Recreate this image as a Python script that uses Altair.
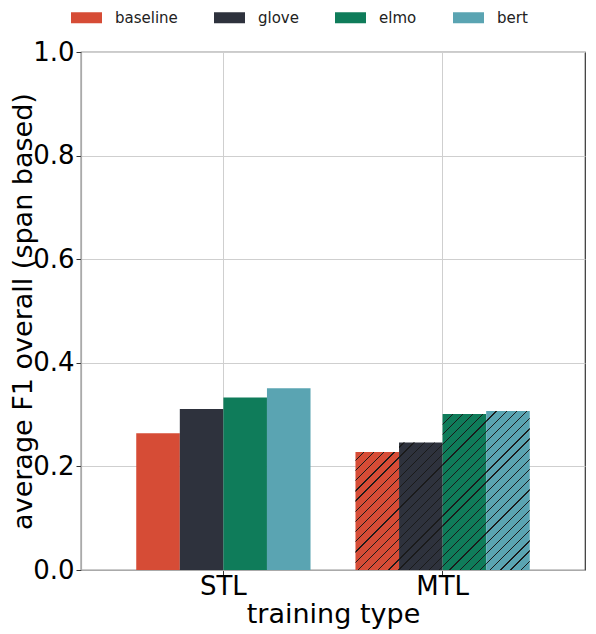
import math
import altair as alt
import pandas as pd

# ---- data ----
training = ["STL", "MTL"]
models = ["baseline", "glove", "elmo", "bert"]
stl_f1 = [0.264, 0.311, 0.333, 0.351]
mtl_f1 = [0.228, 0.246, 0.301, 0.307]
colors = ["#d64c36", "#2e323d", "#0f7c5a", "#5aa4b2"]
y_ticks = [0.0, 0.2, 0.4, 0.6, 0.8, 1.0]

rows = []
for t, vals in zip(training, [stl_f1, mtl_f1]):
    for m, v in zip(models, vals):
        rows.append({"training": t, "model": m, "f1": v})
df = pd.DataFrame(rows)

W, H = 504, 518
P_IN, P_OUT = 0.205, 0.252
FONT = "DejaVu Sans"

# band geometry (only used for the hatch pattern phase/shape)
step = W / (len(training) - P_IN + 2 * P_OUT)
bandw = step * (1 - P_IN)
barw = bandw / len(models)


def hatch_gradient(value, group_idx, model_idx, period=7.2, lw=0.9):
    w = barw
    h = value * H
    x0 = step * P_OUT + group_idx * step + model_idx * barw
    y0 = H - h
    k = (1 / h + 1 / w) / (1 / h ** 2 + 1 / w ** 2)
    a, b = k / h, k / w
    L = (w + h) / math.sqrt(2)
    s0 = (x0 + y0) / math.sqrt(2)
    clear, ink = "rgba(0,0,0,0)", "#1a1a1a"
    stops = [{"offset": 0, "color": clear}]
    pos = math.ceil(s0 / period) * period - s0
    while pos < L:
        o1 = pos / L
        o2 = min((pos + lw) / L, 1.0)
        stops += [
            {"offset": o1, "color": clear},
            {"offset": o1, "color": ink},
            {"offset": o2, "color": ink},
            {"offset": o2, "color": clear},
        ]
        pos += period
    stops.append({"offset": 1, "color": clear})
    return {"gradient": "linear", "x1": 0, "y1": 0, "x2": a, "y2": b, "stops": stops}


x_enc = alt.X(
    "training:N",
    scale=alt.Scale(domain=training, paddingInner=P_IN, paddingOuter=P_OUT),
    axis=alt.Axis(
        title="training type",
        labelAngle=0,
        grid=True,
        bandPosition=0.5,
        ticks=True,
        tickSize=5,
        tickColor="#333333",
        labelBaseline="alphabetic",
        labelPadding=19,
        titleBaseline="alphabetic",
        titleY=52,
        titleX=W / 2,
    ),
)
xo_enc = alt.XOffset(
    "model:N", scale=alt.Scale(domain=models, paddingInner=0, paddingOuter=0)
)
y_enc = alt.Y(
    "f1:Q",
    scale=alt.Scale(domain=[0, 1], nice=False),
    axis=alt.Axis(
        title="average F1 overall (span based)",
        values=y_ticks,
        format=".1f",
        grid=True,
        tickSize=5,
        tickColor="#333333",
        labelPadding=2,
        titleAngle=-90,
        titleBaseline="alphabetic",
        titleAlign="center",
        titleX=-50,
        titleY=H / 2,
    ),
)

base = (
    alt.Chart(df)
    .mark_bar(strokeWidth=0)
    .encode(
        x=x_enc,
        xOffset=xo_enc,
        y=y_enc,
        color=alt.Color(
            "model:N",
            scale=alt.Scale(domain=models, range=colors),
            legend=alt.Legend(
                title=None,
                orient="none",
                direction="horizontal",
                legendX=-10,
                legendY=-50,
                symbolType="M-1,-0.355H1V0.355H-1Z",
                symbolSize=961,
                symbolStrokeWidth=0,
                labelFontSize=15,
                labelFont=FONT,
                labelColor="#222222",
                labelOffset=13,
                columnPadding=36,
                padding=0,
            ),
        ),
    )
)

layers = [base]
for mi, (m, v) in enumerate(zip(models, mtl_f1)):
    layers.append(
        alt.Chart(df)
        .transform_filter((alt.datum.training == "MTL") & (alt.datum.model == m))
        .mark_bar(fill=hatch_gradient(v, 1, mi), strokeWidth=0)
        .encode(x=x_enc, xOffset=xo_enc, y=y_enc)
    )

chart = (
    alt.layer(*layers)
    .properties(
        width=W,
        height=H,
        autosize=alt.AutoSizeParams(type="none"),
        padding={"left": 73, "top": 44, "right": 3, "bottom": 64},
    )
    .configure_view(stroke="#333333", strokeWidth=1.2)
    .configure_axis(
        labelFont=FONT,
        titleFont=FONT,
        labelFontSize=26,
        titleFontSize=27,
        titleFontWeight="normal",
        labelColor="#000000",
        titleColor="#000000",
        domainColor="#aaaaaa",
        domainWidth=1.2,
        gridColor="#cfcfcf",
        gridWidth=1,
    )
)

chart.save("out.html", embed_options={"renderer": "svg", "actions": False})
